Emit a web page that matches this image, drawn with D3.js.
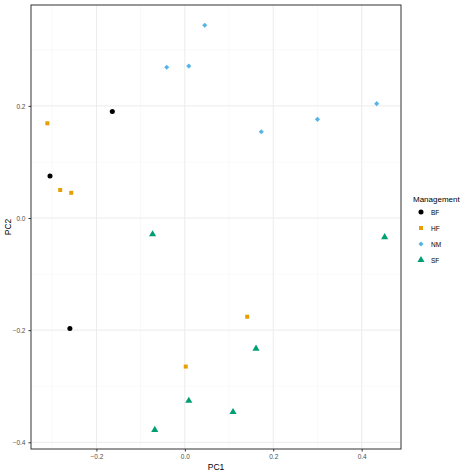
<!DOCTYPE html>
<html><head><meta charset="utf-8">
<script src="https://cdn.jsdelivr.net/npm/d3@7"></script>
<style>body{margin:0;background:#fff}</style>
</head><body><div id="chart"></div>
<script>
// Data
var groups = ["BF", "HF", "NM", "SF"];
var colors = ["#000000", "#E69F00", "#56B4E9", "#009E73"];
var pc1 = [-0.164, -0.305, -0.26,  -0.311, -0.282, -0.257, 0.141, 0.002,  0.045, -0.041, 0.009, 0.173, 0.300, 0.434,  -0.073, 0.161, 0.009, 0.109, -0.068, 0.452];
var pc2 = [0.190, 0.075, -0.197,  0.169, 0.050, 0.045, -0.176, -0.265,  0.344, 0.269, 0.271, 0.154, 0.176, 0.204,  -0.029, -0.233, -0.326, -0.346, -0.378, -0.034];
var grp = ["BF","BF","BF","HF","HF","HF","HF","HF","NM","NM","NM","NM","NM","NM","SF","SF","SF","SF","SF","SF"];
var xTicks = [-0.2, 0, 0.2, 0.4];
var yTicks = [-0.4, -0.2, 0, 0.2];

var svgWidth = 474, svgHeight = 474;
var margin = {top: 5, right: 73, bottom: 25, left: 31};
var width = svgWidth - margin.left - margin.right;
var height = svgHeight - margin.top - margin.bottom;

var svg = d3.select("#chart").append("svg")
  .attr("width", svgWidth).attr("height", svgHeight)
  .style("font-family", "Liberation Sans, Arial, sans-serif");
var g = svg.append("g").attr("transform", `translate(${margin.left},${margin.top})`);

var x = d3.scaleLinear().domain([-0.348, 0.489]).range([0, width]);
var y = d3.scaleLinear().domain([-0.412, 0.380]).range([height, 0]);

// minor + major grid
var xMinor = [-0.3, -0.1, 0.1, 0.3];
var yMinor = [-0.3, -0.1, 0.1, 0.3];
g.selectAll(".gxm").data(xMinor).enter().append("line")
  .attr("x1", d => x(d)).attr("x2", d => x(d)).attr("y1", 0).attr("y2", height)
  .attr("stroke", "#f2f2f2").attr("stroke-width", 0.5);
g.selectAll(".gym").data(yMinor).enter().append("line")
  .attr("y1", d => y(d)).attr("y2", d => y(d)).attr("x1", 0).attr("x2", width)
  .attr("stroke", "#f2f2f2").attr("stroke-width", 0.5);
g.selectAll(".gx").data(xTicks).enter().append("line")
  .attr("x1", d => x(d)).attr("x2", d => x(d)).attr("y1", 0).attr("y2", height)
  .attr("stroke", "#ebebeb").attr("stroke-width", 1);
g.selectAll(".gy").data(yTicks).enter().append("line")
  .attr("y1", d => y(d)).attr("y2", d => y(d)).attr("x1", 0).attr("x2", width)
  .attr("stroke", "#ebebeb").attr("stroke-width", 1);

// axes
var xAxis = g.append("g").attr("transform", `translate(0,${height})`)
  .call(d3.axisBottom(x).tickValues(xTicks).tickSize(2.5).tickFormat(d3.format(".1f")));
var yAxis = g.append("g")
  .call(d3.axisLeft(y).tickValues(yTicks).tickSize(2.5).tickFormat(d3.format(".1f")));
[xAxis, yAxis].forEach(function(a) {
  a.select(".domain").remove();
  a.selectAll("line").attr("stroke", "#333");
  a.selectAll("text").attr("fill", "#4d4d4d").style("font-size", "6.5px")
    .style("font-family", "Liberation Sans, Arial, sans-serif");
});

g.append("rect").attr("width", width).attr("height", height)
  .attr("fill", "none").attr("stroke", "#333").attr("stroke-width", 1);

// points (ggplot-style shapes: circle, square, diamond = rotated square, triangle)
var sym = {BF: d3.symbolCircle, HF: d3.symbolSquare, NM: d3.symbolSquare, SF: d3.symbolTriangle};
var size = {BF: 20, HF: 16, NM: 13, SF: 22};
var col = d3.scaleOrdinal().domain(groups).range(colors);
function place(k, px, py) {
  return `translate(${px},${py})` + (k === "NM" ? " rotate(45)" : "");
}
var pts = pc1.map((v, i) => ({x: v, y: pc2[i], g: grp[i]}));
g.selectAll(".pt").data(pts).enter().append("path")
  .attr("transform", d => place(d.g, x(d.x), y(d.y)))
  .attr("d", d => d3.symbol().type(sym[d.g]).size(size[d.g])())
  .attr("fill", d => col(d.g));

// axis titles
svg.append("text").attr("x", margin.left + width / 2).attr("y", 470)
  .attr("text-anchor", "middle").style("font-size", "8.5px").text("PC1");
svg.append("text").attr("transform", `translate(11,${margin.top + height / 2}) rotate(-90)`)
  .attr("text-anchor", "middle").style("font-size", "8.5px").text("PC2");

// legend
var leg = svg.append("g").attr("transform", "translate(413,199)");
leg.append("text").attr("x", 0).attr("y", 3).style("font-size", "8px").text("Management");
groups.forEach(function(k, i) {
  var yy = 12 + i * 16;
  leg.append("path").attr("transform", place(k, 8, yy + 1))
    .attr("d", d3.symbol().type(sym[k]).size(size[k])()).attr("fill", col(k));
  leg.append("text").attr("x", 18).attr("y", yy + 3.5).style("font-size", "6.5px").text(k);
});
</script></body></html>
